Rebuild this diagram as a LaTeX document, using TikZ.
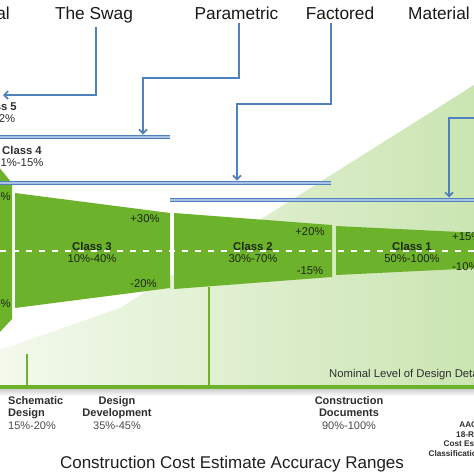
\documentclass[tikz,border=0pt]{standalone}
\usepackage{fontspec}
\setmainfont{Liberation Sans}
\usetikzlibrary{arrows.meta}
\definecolor{leaf}{HTML}{6CB22A}
\definecolor{bline}{HTML}{4F81BD}
\definecolor{blight}{HTML}{A9C3E6}
\definecolor{paleL}{HTML}{F3F9EC}
\definecolor{paleR}{HTML}{CBE5B2}
\definecolor{ink}{HTML}{1C2812}
\definecolor{grayink}{HTML}{2E2E2E}
\definecolor{softink}{HTML}{4A4A4A}
\begin{document}
\begin{tikzpicture}[x=1pt,y=-1pt,
  toplab/.style={font=\fontsize{17.3}{20}\selectfont, text=black!90, anchor=base, inner sep=0pt},
  conn/.style={draw=bline, line width=1.6pt, -{Straight Barb[length=4pt,width=8pt]}},
  bar/.style={draw=bline, double=blight, double distance=1.4pt, line width=1.3pt},
  cls/.style={fill=leaf},
  clab/.style={font=\fontsize{11.3}{12}\selectfont, text=ink, align=center, inner sep=0pt},
  wlab/.style={font=\fontsize{11.3}{12.5}\selectfont, text=grayink, align=center, inner sep=0pt},
  pct/.style={font=\fontsize{11.3}{12}\selectfont, text=ink, inner sep=0pt},
  blab/.style={font=\fontsize{11}{12.5}\selectfont, text=grayink, inner sep=0pt},
  tick/.style={draw=leaf, line width=2.5pt}
]
\fill[white] (0,0) rectangle (474,474);
\useasboundingbox (0,0) rectangle (474,474);

% pale wedge of design detail
\shade[left color=paleL, right color=paleR] (0,350) -- (120,308) -- (474,85) -- (474,387) -- (0,387) -- cycle;

% class bands
\fill[cls] (-2,166) -- (12,183) -- (12,319) -- (-2,334) -- cycle;
\fill[cls] (15,193) -- (170,213) -- (170,288) -- (15,308) -- cycle;
\fill[cls] (174,213) -- (332,225) -- (332,277) -- (174,289) -- cycle;
\fill[cls] (336,226) -- (480,233) -- (480,268) -- (336,275) -- cycle;

% centre dashed line
\draw[white, line width=1.5pt, dash pattern=on 6pt off 7pt] (0,251) -- (474,251);

% baseline, shadow and ticks
\shade[top color=black!22, bottom color=white] (0,388) rectangle (474,396);
\draw[tick] (27,354) -- (27,387);
\draw[tick] (209,287) -- (209,387);
\draw[draw=leaf, line width=3.5pt] (0,387) -- (474,387);

% bars
\coordinate (b4L) at (0,137);   \coordinate (b4R) at (170,137);
\coordinate (b3L) at (0,183);   \coordinate (b3R) at (331,183);
\coordinate (b2L) at (170,200); \coordinate (b2R) at (476,200);
\draw[bar] (b4L) -- (b4R);
\draw[bar] (b3L) -- (b3R);
\draw[bar] (b2L) -- (b2R);

% top labels
\node[toplab, anchor=base east] (hist) at (10,19) {Historical};
\node[toplab] (swag) at (94,19) {The Swag};
\node[toplab] (param) at (236.5,19) {Parametric};
\node[toplab] (fact) at (340,19) {Factored};
\node[toplab] (mat) at (439,19) {Material};

% connector targets
\coordinate (pin5) at (3,95);
\coordinate (pin4) at (143,134.5);
\coordinate (pin3) at (237,180.5);
\coordinate (pin2) at (449,197.5);
\coordinate (matIn) at (476,118);

\draw[conn] (swag.south) ++(2,4) |- (pin5);
\draw[conn] (param.south) ++(2.5,4) |- (143,78) -- (pin4);
\draw[conn] (fact.south) ++(-9,4) |- (237,104) -- (pin3);
\draw[conn] (matIn) -| (pin2);

% class texts
\node[wlab] (c5) at (-3,112.5) {\textbf{Class 5}\\0\%-2\%};
\node[wlab] (c4) at (22,156.5) {\textbf{Class 4}\\1\%-15\%};
\node[clab] (c3) at (92,252) {\textbf{Class 3}\\10\%-40\%};
\node[clab] (c2) at (253,252) {\textbf{Class 2}\\30\%-70\%};
\node[clab] (c1) at (412,252) {\textbf{Class 1}\\50\%-100\%};

\node[pct, anchor=east] (p4h) at (11,197) {+50\%};
\node[pct, anchor=east] (p4l) at (11,304) {-30\%};
\node[pct] (p3h) at (145,219) {+30\%};
\node[pct] (p3l) at (143.5,284) {-20\%};
\node[pct] (p2h) at (310,232) {+20\%};
\node[pct] (p2l) at (310,271) {-15\%};
\node[pct, anchor=west] (p1h) at (452,237) {+15\%};
\node[pct, anchor=west] (p1l) at (452,267) {-10\%};

% axis label
\node[font=\fontsize{11.3}{12}\selectfont, text=grayink, anchor=base west, inner sep=0pt] (nom) at (329,377) {Nominal Level of Design Detail};

% phase labels
\node[blab, align=left, anchor=west] (sd) at (8,413) {\textbf{Schematic}\\\textbf{Design}\\\textcolor{softink}{15\%-20\%}};
\node[blab, align=center] (dd) at (117,413) {\textbf{Design}\\\textbf{Development}\\\textcolor{softink}{35\%-45\%}};
\node[blab, align=center] (cd) at (349,413) {\textbf{Construction}\\\textbf{Documents}\\\textcolor{softink}{90\%-100\%}};
\node[font=\bfseries\fontsize{8.2}{9.5}\selectfont, text=grayink, align=center, inner sep=0pt] (aace) at (471,440) {AACE\\18-R-97\\Cost Estimate\\Classification System};

% title
\node[font=\fontsize{17}{20}\selectfont, text=black!88, anchor=base, inner sep=0pt] (title) at (232,468) {Construction Cost Estimate Accuracy Ranges};
\end{tikzpicture}
\end{document}
